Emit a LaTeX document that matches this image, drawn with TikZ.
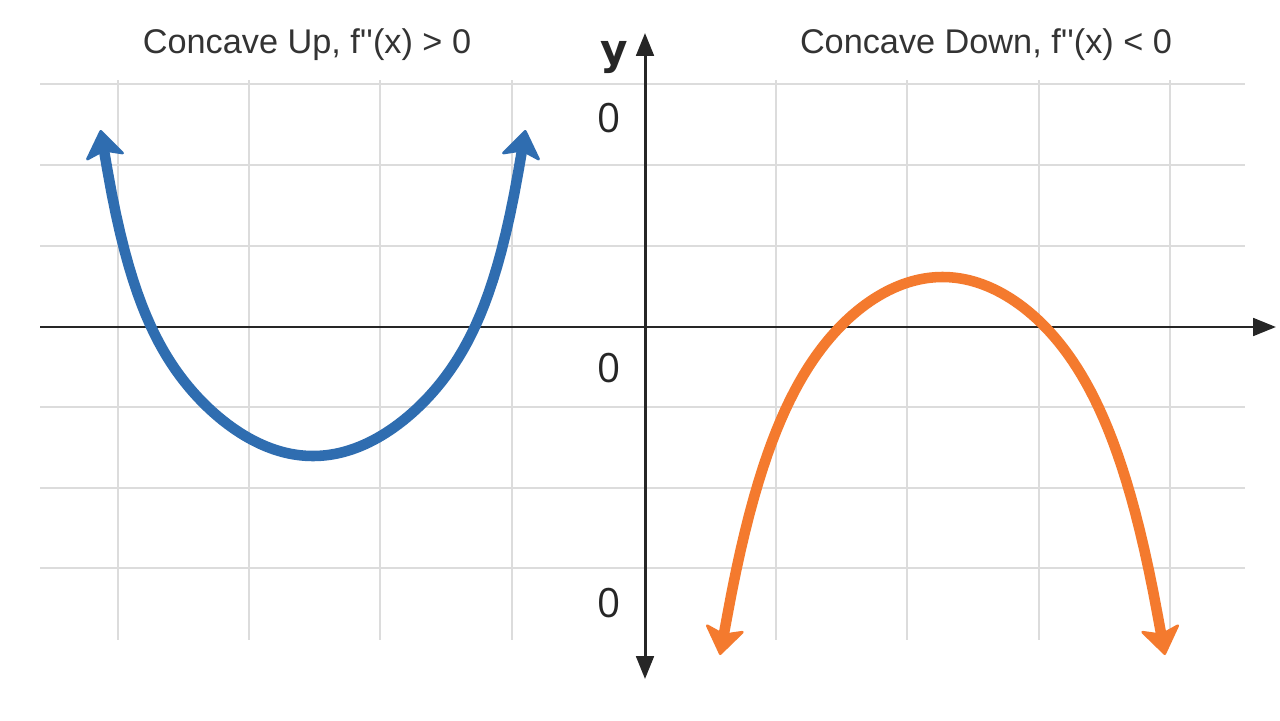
\documentclass[tikz,border=0pt]{standalone}
\usepackage{fontspec}
\setmainfont{Liberation Sans}
\newfontfamily\labfont{Open Sans}
\newfontfamily\yfont{DejaVu Sans}
\usetikzlibrary{arrows.meta}
\definecolor{gridc}{HTML}{DCDCDC}
\definecolor{bluec}{HTML}{2F6DB0}
\definecolor{orangec}{HTML}{F47A2E}
\definecolor{titlec}{HTML}{333333}
\tikzset{
  gridline/.style={gridc, line width=0.9pt},
  axisline/.style={black!85, line width=1.7pt, -{Triangle[length=13pt,width=10pt]}},
  curveline/.style={line width=6pt, line join=round,
    {Stealth[length=17pt,width=24pt,inset=4pt,line width=1.5pt,round]}-{Stealth[length=17pt,width=24pt,inset=4pt,line width=1.5pt,round]}},
  titletext/.style={text=titlec, font=\fontsize{19.5}{22}\selectfont},
  zerolabel/.style={font=\labfont\fontsize{23}{26}\selectfont, text=black!85},
}
\begin{document}
\begin{tikzpicture}[x=0.02cm, y=-0.02cm]
\fill[white] (0,0) rectangle (1280,720);
\useasboundingbox (0,0) rectangle (1280,720);
% grid
\foreach \gx in {118,249,380,512,776,907,1039,1170}
  \draw[gridline] (\gx,80) -- (\gx,640);
\foreach \gy in {84,165,246,407,488,568}
  \draw[gridline] (40,\gy) -- (1245,\gy);
% axes
\coordinate (xstart) at (40,327);
\coordinate (xend) at (1276,327);
\coordinate (ycenter) at (645,327);
\coordinate (ytop) at (645,33);
\coordinate (ybot) at (645,679);
\draw[axisline] (xstart) -- (xend);
\draw[axisline] (ycenter) -- (ytop);
\draw[axisline] (ycenter) -- (ybot);
% labels
\node[titletext] (tup) at (307,45) {Concave Up, f\textquotesingle\textquotesingle(x) > 0};
\node[titletext] (tdown) at (986,45) {Concave Down, f\textquotesingle\textquotesingle(x) < 0};
\node[font=\yfont\bfseries\fontsize{24}{28}\selectfont, text=black!85] (ylab) at (614,58) {y};
\node[zerolabel] (z1) at (609,118) {0};
\node[zerolabel] (z2) at (609,368) {0};
\node[zerolabel] (z3) at (609,603) {0};
% curve end points
\coordinate (bluel) at (100.5,130);
\coordinate (bluer) at (525.5,130);
\coordinate (orangel) at (720,655);
\coordinate (oranger) at (1165,655);
% concave up curve
\draw[bluec, curveline] (bluel) -- plot[domain=-0.97:0.97, samples=97, variable=\u]
  ({313+212*\u}, {456-326*(0.6*(\u*\u)+0.4*(\u*\u)^4)}) -- (bluer);
% concave down curve
\draw[orangec, curveline] (orangel) -- plot[domain=-0.97:0.97, samples=97, variable=\u]
  ({942.5+222*\u}, {277+378*(0.6*(\u*\u)+0.4*(\u*\u)^3)}) -- (oranger);
\end{tikzpicture}
\end{document}
